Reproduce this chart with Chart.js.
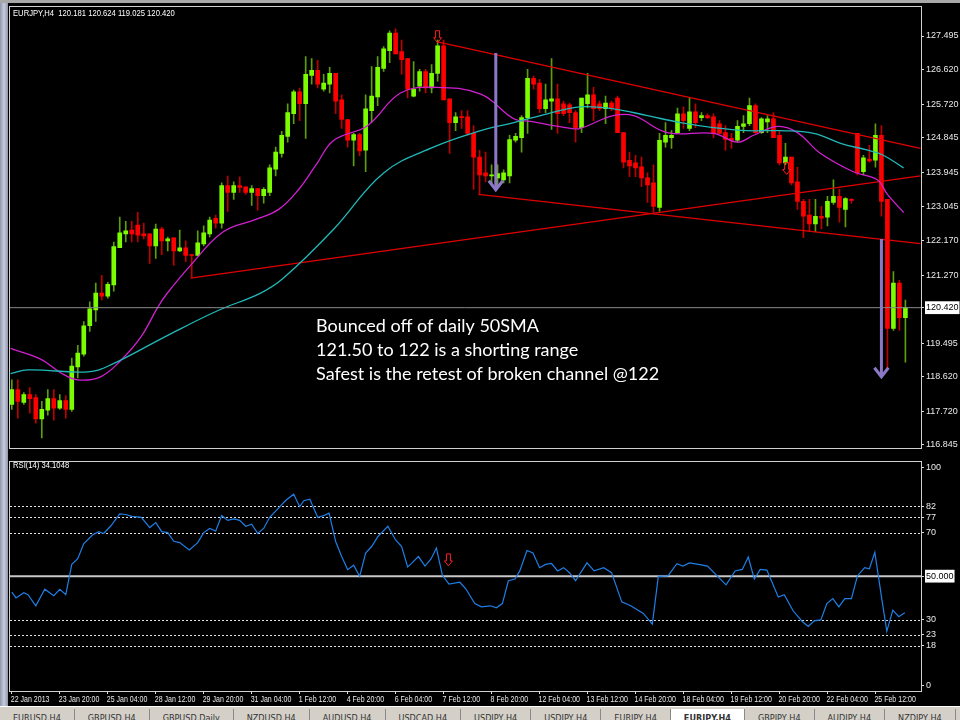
<!DOCTYPE html>
<html><head><meta charset="utf-8">
<script src="https://cdn.jsdelivr.net/npm/chart.js@4"></script>
<style>
html,body{margin:0;padding:0;background:#000;width:960px;height:720px;overflow:hidden;position:relative;font-family:"Liberation Sans",sans-serif}
canvas{position:absolute;left:0}
#c1{top:0}#c2{top:455px}
#lf{position:absolute;left:0;top:0;width:8px;height:706px;background:linear-gradient(90deg,#8e96b0,#c8ccd8,#8e96b0)}
#tp{position:absolute;left:0;top:0;width:960px;height:3px;background:#a8a8a8}
#tabs{position:absolute;left:0;top:706px;width:960px;height:14px;background:#d4d0c8;border-top:1px solid #fff;white-space:nowrap;overflow:hidden}
#tabs span{display:inline-block;font-size:9px;font-family:"DejaVu Sans Condensed",sans-serif;color:#333;padding:4px 13px 0 13px;border-right:1px solid #888;height:14px}
#tabs span.a{background:#fff;font-weight:bold}
</style></head><body>
<canvas id="c1" width="960" height="456"></canvas>
<canvas id="c2" width="960" height="251"></canvas>
<div id="lf"></div><div id="tp"></div>
<div id="tabs"><span>EURUSD,H4</span><span>GBPUSD,H4</span><span>GBPUSD,Daily</span><span>NZDUSD,H4</span><span>AUDUSD,H4</span><span>USDCAD,H4</span><span>USDJPY,H4</span><span>USDJPY,H4</span><span>EURJPY,H4</span><span class="a">EURJPY,H4</span><span>GBPJPY,H4</span><span>AUDJPY,H4</span><span>NZDJPY,H4</span><span>EURAUD,H4</span><span>EURGBP,H4</span></div>
<script>
const opens=[117.90,118.29,117.95,118.16,118.08,117.52,117.75,118.05,117.80,118.00,
117.77,118.88,119.21,119.95,120.36,120.80,120.72,121.01,121.98,122.34,
122.44,122.57,122.34,122.34,122.03,122.47,122.16,122.24,121.90,121.98,
121.80,121.78,122.08,122.34,122.75,122.62,123.60,123.42,123.60,123.57,
123.42,123.52,123.34,123.42,124.03,124.44,124.88,125.47,126.04,125.73,
126.47,126.60,126.11,126.24,126.52,125.83,125.32,124.78,124.93,124.52,
125.55,125.91,126.65,127.11,127.57,127.09,126.91,125.93,126.19,126.57,
126.14,126.52,127.24,125.86,125.24,125.39,125.39,124.96,124.34,123.93,
123.85,123.80,123.75,123.85,124.78,124.85,125.37,126.39,126.27,125.60,
125.80,125.86,125.73,125.70,125.50,125.11,125.73,125.96,125.73,125.60,
125.75,125.88,124.98,124.26,124.19,124.09,123.80,123.67,123.03,124.73,
124.85,124.98,125.47,125.09,125.52,125.37,125.42,125.39,125.21,124.98,
124.83,124.78,125.14,125.21,125.68,124.98,125.26,125.34,124.91,124.19,
124.34,123.70,123.19,122.83,122.60,122.80,122.78,123.16,123.32,122.98,
123.24,124.96,123.96,124.29,124.26,124.91,123.24,119.88,121.06,120.16];
const highs=[118.54,118.54,118.21,118.34,118.16,117.98,118.29,118.29,118.16,118.13,
119.11,119.44,120.06,120.57,121.06,121.26,121.08,122.13,122.78,122.67,
122.67,122.90,122.62,122.34,122.60,122.52,122.26,122.24,122.44,122.16,
121.80,122.42,122.55,122.78,122.83,123.67,123.85,123.70,123.83,123.57,
123.60,123.52,123.55,124.14,124.60,125.01,125.73,126.09,126.14,126.96,
126.91,126.86,126.50,126.68,126.52,125.96,125.32,124.96,124.96,125.96,
126.70,126.96,127.22,127.63,127.68,127.39,126.91,126.83,126.63,126.63,
126.75,127.39,127.39,125.86,125.50,125.55,125.55,125.16,124.52,124.47,
124.14,124.14,124.01,124.91,124.96,125.42,126.63,126.45,126.37,126.24,
126.91,126.24,125.80,125.75,125.55,125.88,126.52,126.16,125.80,125.93,
125.80,125.93,124.98,124.47,124.39,124.34,123.93,124.14,124.96,125.24,
125.03,125.62,125.65,125.88,125.73,125.50,125.47,125.47,125.29,125.16,
124.96,125.29,125.42,125.88,125.73,125.37,125.42,125.50,125.03,124.70,
124.34,124.08,123.24,123.24,123.24,123.06,123.32,123.75,123.50,123.29,
123.26,124.96,124.39,124.65,125.21,125.16,123.24,121.36,121.13,120.62];
const lows=[117.77,117.54,117.90,117.67,117.41,117.03,117.62,117.49,117.77,117.54,
117.72,118.59,119.16,119.80,120.06,120.62,120.67,120.85,121.98,122.13,
122.13,122.13,122.21,121.57,121.70,121.80,121.90,121.52,121.88,121.62,
121.21,121.78,122.03,122.26,122.49,122.49,122.93,123.24,123.42,123.37,
123.08,122.96,123.14,123.34,123.85,124.34,124.73,125.21,125.29,124.83,
126.24,126.14,126.06,126.01,125.47,125.09,124.60,124.11,124.37,123.96,
125.24,125.68,126.57,126.80,127.03,126.50,125.88,125.91,126.06,126.01,
126.01,126.32,125.83,124.44,125.03,125.09,124.91,123.50,123.37,123.70,
123.62,123.55,123.67,123.67,124.73,124.47,124.96,126.11,125.50,125.50,
125.06,124.96,125.42,125.24,124.73,124.98,125.62,125.29,125.55,125.21,
125.55,124.98,124.06,123.83,123.83,123.57,123.16,122.90,122.93,124.60,
124.57,124.96,125.09,125.03,125.11,125.29,125.34,124.85,124.96,124.52,
124.57,124.73,124.98,125.16,124.96,124.96,124.98,124.85,124.14,124.14,
123.62,122.98,122.24,122.42,122.39,122.47,122.55,123.11,122.65,122.52,
123.14,123.88,123.88,124.21,124.08,122.80,118.80,119.83,119.83,119.00];
const closes=[118.29,117.98,118.16,118.05,117.52,117.77,118.05,117.80,118.00,117.77,
118.90,119.24,119.95,120.39,120.80,120.72,121.03,122.01,122.37,122.42,
122.34,122.31,122.29,122.03,122.47,122.16,122.21,121.90,121.98,121.78,
121.78,122.11,122.37,122.70,122.62,123.60,123.42,123.60,123.55,123.42,
123.52,123.34,123.50,124.06,124.47,124.91,125.50,126.04,125.73,126.50,
126.60,126.24,126.27,126.52,125.80,125.32,124.78,124.93,124.50,125.60,
125.93,126.68,127.16,127.57,127.03,126.88,126.11,126.11,126.57,126.14,
126.52,127.24,125.83,125.24,125.39,125.37,124.96,124.34,123.88,123.85,
123.88,123.91,123.93,124.80,124.88,125.37,126.39,126.24,125.60,125.83,
125.86,125.47,125.47,125.50,125.11,125.88,125.96,125.60,125.60,125.75,
125.60,124.98,124.21,124.11,124.06,123.80,123.62,123.06,124.78,124.91,
124.91,125.47,125.29,125.52,125.24,125.42,125.37,124.98,124.96,124.80,
124.78,125.14,125.21,125.68,124.98,125.34,125.34,124.85,124.19,124.34,
123.67,123.19,122.80,122.60,122.80,122.75,123.19,123.32,123.03,123.26,
123.21,123.93,124.32,124.24,124.91,123.19,119.88,121.06,120.16,120.42];
const smaFastX=[-0.2,4.8,8.2,11,14.8,18.2,21.5,24.3,25.7,29.8,35.2,40.7,44.5,47.8,50.7,53.7,59.3,64.8,70.3,78.2,83.7,86.5,93.2,94.8,100.3,103.7,109.3,117,121,123.7,127.7,131,134.8,140.3,144.3,146,148.7];
const smaFastY=[119.36,119.08,118.72,118.54,118.62,119.05,119.65,120.42,120.75,121.52,122.39,122.72,122.98,123.49,124.13,124.78,125.16,126.01,126.16,125.98,125.34,125.27,125.09,125.09,125.42,125.42,124.98,124.96,124.73,124.91,125.14,124.98,124.44,123.96,123.75,123.37,122.90];
const smaSlowX=[-0.2,2.7,12.7,16.5,26,34.3,41.5,45.3,53.7,62,70.3,78.2,83.7,89.3,94.8,100.3,106,111.5,117,122.7,128.2,133.7,138.2,142.7,145.3,148.7];
const smaSlowY=[118.70,118.80,118.75,118.93,119.70,120.34,120.80,121.19,122.47,123.93,124.60,125.03,125.24,125.47,125.65,125.60,125.42,125.24,125.11,125.03,125.03,124.96,124.70,124.52,124.39,124.06];
const trendX=[[71,151.5],[77.8,151.5],[29.8,151.5]];
const trendY=[[127.34,124.57],[123.37,122.09],[121.19,123.85]];
const arrowX=[80.7,145], arrowFrom=[127.05,122.21], arrowTo=[123.49,118.62];
const markX=[71,129.2], markY=[127.45,124.02];
const rsiMarkX=[72.8], rsiMarkY=[57];
const lastPrice=120.42;
const priceTicks=[127.495,126.620,125.720,124.845,123.945,123.045,122.170,121.270,120.420,119.495,118.620,117.720,116.845];
const rsiTicks=[100,82,77,70,50,30,23,18,0];
const rsiDotted=[82,77,70,30,23,18];
const rsiX=[0,0.7,2,2.7,4,5.5,7,8,9,10,11,12,13.5,14.5,15.3,16.5,18,19,20,21.6,23,24,25,26,27,28,29.6,31,32,33,34,35,36,37,38,39,40,41,42,43,44.6,45.6,47,48,48.7,49.7,51,52,52.9,54,55,56,57,58,59,60,61,62.7,64,65,66,66.7,67.8,68.9,69.9,70.8,71.8,72.9,74.7,75.7,77.2,78.3,79.8,80.8,81.8,82.8,83.9,84.7,85.9,86.9,88,89,90,91,92,93,94,95.9,97.1,98.7,100,101.7,103.2,105.3,106.8,107.8,109.4,110.9,111.9,113,114.5,116,117.6,119.1,120.6,121.8,122.8,123.8,124.8,125.9,127.8,128.8,130.3,131.8,132.8,133.8,134.9,135.9,136.9,137.9,138.9,140,141,142.2,143,143.9,145.1,145.9,146.9,147.9,148.9];
const rsiY=[42.7,40,42.4,41.5,36.4,44,41,44,41.5,55.4,58,65,69,70.4,69.6,73,78.6,78.3,77.4,77,72.3,74.6,70.4,70,66,65.4,62,65.4,70,71.9,70.7,77.8,75.6,76.3,75.6,72.9,73.8,69.6,71.9,77,81.6,84.6,87.6,81.9,84.6,85.3,77,77.8,78.9,65.9,59,53,55,49.9,60.6,63.6,68,72.9,66.6,63.6,54.2,56,59,54.6,57.9,62.9,50.4,46.4,47.2,44.2,37.4,35.9,36.4,35.5,37.4,47.9,48.7,52.4,61.8,60.6,53.9,55.4,55.8,52.4,53.9,51.6,47.9,56.1,52.4,53.9,51.6,38.2,36.4,32.9,28,49.9,50.1,55.7,54.6,56.1,55.4,54.6,50.1,46,52.4,53.1,58.8,48.7,53.1,52.8,40.4,41.5,34,29.2,26.9,29.5,29.9,37.4,39.7,35.9,39.7,39.7,50.1,53.9,53.4,60.9,38.9,24.7,34.4,31.4,33.2];
const dateTickIdx=[0,8,16,24,32,40,48,56,64,72,80,88,96,104,112,120,128,136,144];
const dateLabels=["22 Jan 2013","23 Jan 20:00","25 Jan 04:00","28 Jan 12:00","29 Jan 20:00","31 Jan 04:00","1 Feb 12:00","4 Feb 20:00","6 Feb 04:00","7 Feb 12:00","8 Feb 20:00","12 Feb 04:00","13 Feb 12:00","14 Feb 20:00","18 Feb 04:00","19 Feb 12:00","20 Feb 20:00","22 Feb 04:00","25 Feb 12:00"];
const notes=["Bounced off of daily 50SMA","121.50 to 122 is a shorting range","Safest is the retest of broken channel @122"];
const header="EURJPY,H4  120.181 120.624 119.025 120.420";
const rsiHeader="RSI(14) 34.1048";

const xMin=-0.3, xMax=151.6;
const UP='#7cfc00', DN='#ff0000', UPW='#5c9e0c', DNW='#c00000';
const idx=opens.map((_,i)=>i);
const isUp=i=>closes[i]>=opens[i];

function squeezeText(c,t,x,y,sx){c.save();c.translate(x,y);c.scale(sx,1);c.fillText(t,0,0);c.restore();}
function hollowArrow(ctx,x,y){
  ctx.save();ctx.strokeStyle='#ff2020';ctx.lineWidth=1;ctx.beginPath();
  ctx.moveTo(x-2,y-7);ctx.lineTo(x+2,y-7);ctx.lineTo(x+2,y);ctx.lineTo(x+4,y);ctx.lineTo(x,y+5);ctx.lineTo(x-4,y);ctx.lineTo(x-2,y);ctx.closePath();ctx.stroke();ctx.restore();
}
const frame={id:'frame',afterDraw(ch){
  const a=ch.chartArea,c=ch.ctx;c.save();c.strokeStyle='#d0d0d0';c.lineWidth=1;
  c.strokeRect(Math.floor(a.left)-0.5,Math.floor(a.top)-0.5,Math.round(a.right-a.left)+1,Math.round(a.bottom-a.top)+1);c.restore();}};
const mainDeco={id:'mainDeco',afterDatasetsDraw(ch){
  const c=ch.ctx,x=ch.scales.x,y=ch.scales.y,a=ch.chartArea;
  c.save();c.beginPath();c.rect(a.left,a.top,a.right-a.left,a.bottom-a.top);c.clip();
  c.strokeStyle='#8d78c8';c.lineWidth=3;
  arrowX.forEach((ax,i)=>{const px=x.getPixelForValue(ax),p0=y.getPixelForValue(arrowFrom[i]),p1=y.getPixelForValue(arrowTo[i]);
    c.beginPath();c.moveTo(px,p0);c.lineTo(px,p1);c.stroke();
    c.beginPath();c.moveTo(px-7,p1-9);c.lineTo(px,p1);c.lineTo(px+7,p1-9);c.stroke();});
  markX.forEach((mx,i)=>hollowArrow(c,x.getPixelForValue(mx),y.getPixelForValue(markY[i])));
  c.restore();
  c.save();c.fillStyle='#fff';c.font='9px "Liberation Sans"';c.textBaseline='middle';squeezeText(c,header,13,14,0.85);
  c.font='18px Lato';c.textBaseline='alphabetic';
  notes.forEach((t,i)=>c.fillText(t,316,332+i*24));c.restore();}};
const rsiDeco={id:'rsiDeco',beforeDatasetsDraw(ch){
  const c=ch.ctx,y=ch.scales.y,a=ch.chartArea;c.save();
  c.strokeStyle='#e0e0e0';c.lineWidth=1;c.setLineDash([2,2]);
  rsiDotted.forEach(v=>{const p=Math.round(y.getPixelForValue(v))+0.5;c.beginPath();c.moveTo(a.left,p);c.lineTo(a.right,p);c.stroke();});
  c.setLineDash([]);c.strokeStyle='#c8c8c8';c.lineWidth=2;const p=y.getPixelForValue(50);c.beginPath();c.moveTo(a.left,p);c.lineTo(a.right,p);c.stroke();
  c.restore();},
  afterDatasetsDraw(ch){const c=ch.ctx,x=ch.scales.x,y=ch.scales.y,a=ch.chartArea;
  rsiMarkX.forEach((mx,i)=>hollowArrow(c,x.getPixelForValue(mx),y.getPixelForValue(rsiMarkY[i])));
  c.save();c.fillStyle='#fff';c.font='9px "Liberation Sans"';c.textBaseline='middle';squeezeText(c,rsiHeader,13,11,0.85);
  c.fillStyle='#e8e8e8';c.textBaseline='top';
  dateTickIdx.forEach((v,i)=>squeezeText(c,dateLabels[i],x.getPixelForValue(v)-1,a.bottom+4,0.78));
  c.restore();}};

const tickFont={family:'Liberation Sans',size:9};
const lineDs=(xs,ys,color,w,tension)=>({type:'line',data:xs.map((v,i)=>({x:v,y:ys[i]})),borderColor:color,borderWidth:w,pointRadius:0,tension:tension||0,order:1});

new Chart(document.getElementById('c1'),{
  type:'bar',
  data:{datasets:[
    lineDs([xMin-1,xMax+1],[lastPrice,lastPrice],'#8a8a8a',1),
    lineDs(smaSlowX,smaSlowY,'#20b8b8',1.3,0.4),
    lineDs(smaFastX,smaFastY,'#d020d0',1.3,0.4),
    ...trendX.map((t,i)=>lineDs(t,trendY[i],'#e00000',1.3)),
    {data:idx.map(i=>({x:i,y:[lows[i],highs[i]]})),backgroundColor:idx.map(i=>isUp(i)?UPW:DNW),barThickness:1,grouped:false,order:3},
    {data:idx.map(i=>({x:i,y:[opens[i],closes[i]]})),backgroundColor:idx.map(i=>isUp(i)?UP:DN),barThickness:4,minBarLength:1,grouped:false,order:2}
  ]},
  options:{animation:false,responsive:false,devicePixelRatio:1,
    layout:{padding:{left:10,top:5,bottom:3,right:0}},
    plugins:{legend:{display:false},tooltip:{enabled:false}},
    scales:{
      x:{type:'linear',min:xMin,max:xMax,offset:false,display:false},
      y:{position:'right',min:116.75,max:128.24,
        afterFit(s){s.width=39;},
        afterBuildTicks(s){s.ticks=priceTicks.map(v=>({value:v}));},
        grid:{drawOnChartArea:false,color:'#ddd',tickLength:3},border:{display:false},
        ticks:{font:tickFont,color:c=>c.tick.value===lastPrice?'#000':'#e8e8e8',padding:2,
          showLabelBackdrop:c=>c.tick.value===lastPrice,backdropColor:'#fff',backdropPadding:1,
          callback:v=>v.toFixed(3)}}}},
  plugins:[frame,mainDeco]});

new Chart(document.getElementById('c2'),{
  type:'line',
  data:{datasets:[{data:rsiX.map((v,i)=>({x:v,y:rsiY[i]})),borderColor:'#1e7fe6',borderWidth:1.2,pointRadius:0}]},
  options:{animation:false,responsive:false,devicePixelRatio:1,
    layout:{padding:{left:10,top:2,right:0,bottom:0}},
    plugins:{legend:{display:false},tooltip:{enabled:false}},
    scales:{
      x:{type:'linear',min:xMin,max:xMax,offset:false,
        afterFit(s){s.height=15;},
        afterBuildTicks(s){s.ticks=dateTickIdx.map(v=>({value:v}));},
        grid:{drawOnChartArea:false,color:'#ddd',tickLength:3},border:{display:false},
        ticks:{display:false}},
      y:{position:'right',min:-2.7,max:102.2,
        afterFit(s){s.width=39;},
        afterBuildTicks(s){s.ticks=rsiTicks.map(v=>({value:v}));},
        grid:{drawOnChartArea:false,color:'#ddd',tickLength:3},border:{display:false},
        ticks:{font:tickFont,color:c=>c.tick.value===50?'#000':'#e8e8e8',padding:2,
          showLabelBackdrop:c=>c.tick.value===50,backdropColor:'#fff',backdropPadding:1,
          callback:v=>v===50?'50.000':String(v)}}}},
  plugins:[frame,rsiDeco]});
</script></body></html>
